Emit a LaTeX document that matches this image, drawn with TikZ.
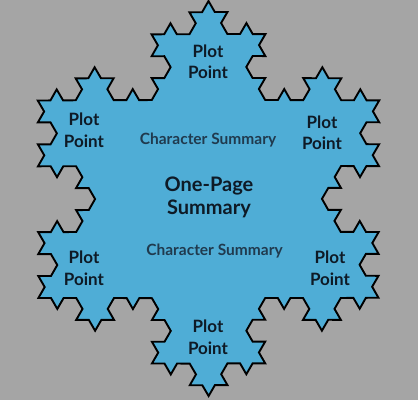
\documentclass[tikz,border=0pt]{standalone}
\usepackage{fontspec}
\setmainfont{Lato}
\usepackage{tikz}
\usetikzlibrary{decorations.fractals}
\usepackage{xcolor}

\definecolor{bggray}{RGB}{165,165,165}
\definecolor{flakeblue}{RGB}{79,173,214}
\definecolor{plotink}{RGB}{14,26,38}
\definecolor{charink}{RGB}{32,58,78}

\tikzset{
  plotpt/.style={align=center,text=plotink,font=\bfseries\fontsize{17}{21.5}\selectfont},
  charsum/.style={anchor=base,text=charink,font=\bfseries\fontsize{15.5}{18}\selectfont},
  flake/.style={draw=black,line width=1.9pt,fill=flakeblue,decoration=Koch snowflake}
}

\begin{document}
\begin{tikzpicture}[x=1pt,y=1pt]
\fill[bggray] (0,0) rectangle (418,400);
\useasboundingbox (0,0) rectangle (418,400);

% snowflake outline, order 3
\coordinate (apex) at (208.5,399);
\coordinate (right) at (378.6,102);
\coordinate (left) at (38.4,102);
\draw[flake] decorate{decorate{decorate{(apex) -- (right) -- (left) -- (apex)}}} -- cycle;

\node[plotpt] (ptN) at (208,338.3) {Plot\\Point};
\node[plotpt] (ptNW) at (84,269.8) {Plot\\Point};
\node[plotpt] (ptNE) at (322,267.3) {Plot\\Point};
\node[plotpt] (ptSW) at (84,131.8) {Plot\\Point};
\node[plotpt] (ptSE) at (330,131.8) {Plot\\Point};
\node[plotpt] (ptS) at (208,62.8) {Plot\\Point};

\node[charsum] (charA) at (208,256) {Character Summary};
\node[charsum] (charB) at (214.5,144.4) {Character Summary};

\node[align=center,text=plotink,font=\bfseries\fontsize{20}{23}\selectfont] (summary) at (209,202.5) {One-Page\\Summary};
\end{tikzpicture}
\end{document}
